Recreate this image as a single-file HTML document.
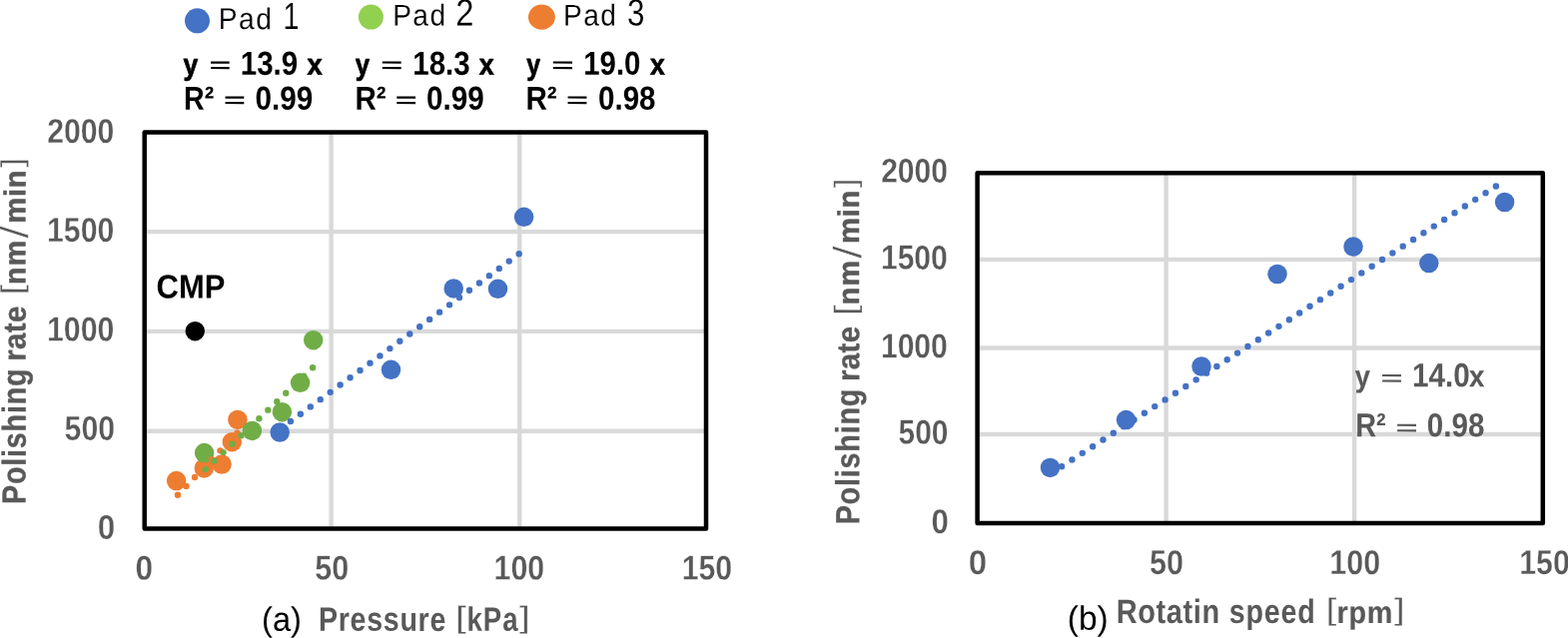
<!DOCTYPE html>
<html lang="en">
<head>
<meta charset="utf-8">
<title>Polishing rate vs pressure and rotation speed</title>
<style>
html,body{margin:0;padding:0;background:#fff;}
body{width:1570px;height:639px;overflow:hidden;}
svg{display:block;font-family:"Liberation Sans",sans-serif;}
</style>
</head>
<body>
<svg width="1570" height="639" viewBox="0 0 1570 639">
<rect width="1570" height="639" fill="#fff"/>
<g stroke="#d9d9d9" stroke-width="4.4" fill="none">
<line x1="331.6" y1="132.4" x2="331.6" y2="529.6"/>
<line x1="520.25" y1="132.4" x2="520.25" y2="529.6"/>
<line x1="144.7" y1="232.1" x2="707.0" y2="232.1"/>
<line x1="144.7" y1="331.85" x2="707.0" y2="331.85"/>
<line x1="144.7" y1="431.7" x2="707.0" y2="431.7"/>
</g>
<g fill="#4472c4"><circle cx="524.6" cy="217.3" r="9.75"/><circle cx="454.2" cy="288.9" r="9.75"/><circle cx="498.5" cy="289.3" r="9.75"/><circle cx="391.5" cy="370.3" r="9.75"/><circle cx="280.2" cy="433.0" r="9.75"/></g>
<g fill="#ed7d31"><circle cx="237.9" cy="420.4" r="9.75"/><circle cx="232.3" cy="442.7" r="9.75"/><circle cx="222.1" cy="465.1" r="9.75"/><circle cx="204.3" cy="468.9" r="9.75"/><circle cx="176.6" cy="481.6" r="9.75"/></g>
<g fill="#70ad47"><circle cx="313.7" cy="340.7" r="9.75"/><circle cx="300.6" cy="383.3" r="9.75"/><circle cx="282.4" cy="412.7" r="9.75"/><circle cx="252.4" cy="431.4" r="9.75"/><circle cx="204.6" cy="453.6" r="9.75"/></g>
<g fill="#000"><circle cx="195.3" cy="331.7" r="9.7"/></g>
<line x1="290.90" y1="422.00" x2="519.86" y2="254.18" stroke="#4472c4" stroke-width="6.4" stroke-linecap="round" stroke-dasharray="0 12.3338" fill="none"/>
<line x1="178.00" y1="495.80" x2="237.64" y2="433.46" stroke="#ed7d31" stroke-width="6.4" stroke-linecap="round" stroke-dasharray="0 12.2966" fill="none"/>
<line x1="205.70" y1="470.10" x2="313.25" y2="368.06" stroke="#70ad47" stroke-width="6.4" stroke-linecap="round" stroke-dasharray="0 12.3374" fill="none"/>
<rect x="144.7" y="132.4" width="562.30" height="397.20" fill="none" stroke="#000" stroke-width="4.5" stroke-linejoin="round"/>
<g stroke="#d9d9d9" stroke-width="4.4" fill="none">
<line x1="1167.6" y1="173.3" x2="1167.6" y2="523.9"/>
<line x1="1356.1" y1="173.3" x2="1356.1" y2="523.9"/>
<line x1="978.6" y1="259.9" x2="1544.8" y2="259.9"/>
<line x1="978.6" y1="348.5" x2="1544.8" y2="348.5"/>
<line x1="978.6" y1="435.0" x2="1544.8" y2="435.0"/>
</g>
<line x1="1063.06" y1="467.24" x2="1498.07" y2="186.39" stroke="#4472c4" stroke-width="6.4" stroke-linecap="round" stroke-dasharray="0 12.3236" fill="none"/>
<g fill="#4472c4"><circle cx="1051.5" cy="468.4" r="9.75"/><circle cx="1127.5" cy="420.6" r="9.75"/><circle cx="1203.0" cy="367.0" r="9.75"/><circle cx="1279.0" cy="274.5" r="9.75"/><circle cx="1355.0" cy="247.0" r="9.75"/><circle cx="1430.8" cy="263.6" r="9.75"/><circle cx="1506.6" cy="202.5" r="9.75"/></g>
<rect x="978.6" y="173.3" width="566.20" height="350.60" fill="none" stroke="#000" stroke-width="4.5" stroke-linejoin="round"/>
<ellipse cx="197.5" cy="20.8" rx="12.5" ry="12.5" fill="#4472c4"/>
<ellipse cx="371.4" cy="17.1" rx="12.5" ry="12.5" fill="#92d050"/>
<ellipse cx="542.4" cy="17.2" rx="13.4" ry="12.6" fill="#ed7d31"/>
<g class="yticks"><text transform="translate(47.14 143.00) rotate(0.05) scale(0.8772 1)" font-size="34.4" font-weight="700" fill="#595959" stroke="#fff" stroke-width="0.3">2000</text> <text transform="translate(47.01 242.00) rotate(0.05) scale(0.8789 1)" font-size="34.4" font-weight="700" fill="#595959" stroke="#fff" stroke-width="0.3">1500</text> <text transform="translate(47.01 341.40) rotate(0.05) scale(0.8789 1)" font-size="34.4" font-weight="700" fill="#595959" stroke="#fff" stroke-width="0.3">1000</text> <text transform="translate(64.59 440.70) rotate(0.05) scale(0.8789 1)" font-size="34.4" font-weight="700" fill="#595959" stroke="#fff" stroke-width="0.3">500</text> <text transform="translate(97.65 539.70) rotate(0.05) scale(0.9119 1)" font-size="34.4" font-weight="700" fill="#595959" stroke="#fff" stroke-width="0.3">0</text></g>
<g class="xticks"><text transform="translate(135.54 580.50) rotate(0.05) scale(0.9180 1)" font-size="34.4" font-weight="700" fill="#595959" stroke="#fff" stroke-width="0.3">0</text> <text transform="translate(315.28 580.50) rotate(0.05) scale(0.8889 1)" font-size="34.4" font-weight="700" fill="#595959" stroke="#fff" stroke-width="0.3">50</text> <text transform="translate(494.60 580.50) rotate(0.05) scale(0.8823 1)" font-size="34.4" font-weight="700" fill="#595959" stroke="#fff" stroke-width="0.3">100</text> <text transform="translate(682.71 580.50) rotate(0.05) scale(0.8786 1)" font-size="34.4" font-weight="700" fill="#595959" stroke="#fff" stroke-width="0.3">150</text></g>
<g class="ytitle"><text transform="translate(25.60 505.04) rotate(-89.95) scale(0.8590 1)" font-size="33.4" font-weight="700" fill="#595959" letter-spacing="0.960" stroke="#595959" stroke-width="0.3">Polishing</text> <text transform="translate(25.60 361.82) rotate(-89.95) scale(0.9348 1)" font-size="31.6" font-weight="700" fill="#595959" letter-spacing="0.373" stroke="#595959" stroke-width="0.3">rate</text> <text transform="translate(22.20 295.62) rotate(-89.95) scale(1.2325 1)" font-size="30.4" font-weight="400" fill="#595959" stroke="#fff" stroke-width="0.25">[</text><text transform="translate(25.35 284.97) rotate(-89.95) scale(0.9588 1)" font-size="30.0" font-weight="700" fill="#595959" letter-spacing="1.273" stroke="#595959" stroke-width="0.55">nm</text><text transform="translate(28.00 238.70) rotate(-89.95) scale(1.1622 1)" font-size="40" font-weight="400" fill="#595959" stroke="#fff" stroke-width="0.6">/</text><text transform="translate(25.35 223.80) rotate(-89.95) scale(0.9744 1)" font-size="30.0" font-weight="700" fill="#595959" letter-spacing="0.767" stroke="#595959" stroke-width="0.55">min</text><text transform="translate(22.20 167.86) rotate(-89.95) scale(1.1513 1)" font-size="30.4" font-weight="400" fill="#595959" stroke="#fff" stroke-width="0.25">]</text></g>
<g class="ytitle"><text transform="translate(860.20 525.34) rotate(-89.95) scale(0.8590 1)" font-size="33.4" font-weight="700" fill="#595959" letter-spacing="0.960" stroke="#595959" stroke-width="0.3">Polishing</text> <text transform="translate(860.20 382.12) rotate(-89.95) scale(0.9348 1)" font-size="31.6" font-weight="700" fill="#595959" letter-spacing="0.373" stroke="#595959" stroke-width="0.3">rate</text> <text transform="translate(856.80 315.92) rotate(-89.95) scale(1.2325 1)" font-size="30.4" font-weight="400" fill="#595959" stroke="#fff" stroke-width="0.25">[</text><text transform="translate(859.95 305.27) rotate(-89.95) scale(0.9588 1)" font-size="30.0" font-weight="700" fill="#595959" letter-spacing="1.273" stroke="#595959" stroke-width="0.55">nm</text><text transform="translate(862.60 259.00) rotate(-89.95) scale(1.1622 1)" font-size="40" font-weight="400" fill="#595959" stroke="#fff" stroke-width="0.6">/</text><text transform="translate(859.95 244.10) rotate(-89.95) scale(0.9744 1)" font-size="30.0" font-weight="700" fill="#595959" letter-spacing="0.767" stroke="#595959" stroke-width="0.55">min</text><text transform="translate(856.80 188.16) rotate(-89.95) scale(1.1513 1)" font-size="30.4" font-weight="400" fill="#595959" stroke="#fff" stroke-width="0.25">]</text></g>
<g class="xtitle"><text transform="translate(262.06 631.80) rotate(0.05) scale(0.9594 1)" font-size="34" font-weight="400" fill="#000">(a)</text> <text transform="translate(318.97 631.80) rotate(0.05) scale(0.8460 1)" font-size="33.8" font-weight="700" fill="#595959" letter-spacing="0.841">Pressure</text> <text transform="translate(455.97 628.40) rotate(0.05) scale(1.2825 1)" font-size="30.4" font-weight="400" fill="#595959" stroke="#fff" stroke-width="0.25">[</text><text transform="translate(467.57 631.80) rotate(0.05) scale(0.8148 1)" font-size="33.8" font-weight="700" fill="#595959" letter-spacing="1.208">kPa</text><text transform="translate(520.01 628.40) rotate(0.05) scale(1.2829 1)" font-size="30.4" font-weight="400" fill="#595959" stroke="#fff" stroke-width="0.25">]</text></g>
<g class="annotation"><text transform="translate(156.56 298.50) rotate(0.05) scale(0.9257 1)" font-size="33.4" font-weight="700" fill="#000">CMP</text></g>
<g class="legend"><text transform="translate(218.77 29.10) rotate(0.05) scale(0.9405 1)" font-size="30" font-weight="400" fill="#000" letter-spacing="1.563" stroke="#fff" stroke-width="0.12">Pad</text> <text transform="translate(283.45 29.10) rotate(0.05) scale(0.7585 1)" font-size="37.8" font-weight="400" fill="#000" stroke="#fff" stroke-width="0.12">1</text></g>
<g class="legend"><text transform="translate(393.18 25.40) rotate(0.05) scale(0.9366 1)" font-size="30" font-weight="400" fill="#000" letter-spacing="1.563" stroke="#fff" stroke-width="0.12">Pad</text> <text transform="translate(456.36 25.40) rotate(0.05) scale(0.8663 1)" font-size="37.8" font-weight="400" fill="#000" stroke="#fff" stroke-width="0.12">2</text></g>
<g class="legend"><text transform="translate(564.08 25.40) rotate(0.05) scale(0.9366 1)" font-size="30" font-weight="400" fill="#000" letter-spacing="1.563" stroke="#fff" stroke-width="0.12">Pad</text> <text transform="translate(628.12 25.40) rotate(0.05) scale(0.8299 1)" font-size="37.8" font-weight="400" fill="#000" stroke="#fff" stroke-width="0.12">3</text></g>
<g class="trend-eq"><text transform="translate(183.60 74.70) rotate(0.05) scale(0.8883 1)" font-size="29.880000000000003" font-weight="700" fill="#000" stroke="#000" stroke-width="0.7" stroke-linejoin="round">y</text> <text transform="translate(209.52 72.10) rotate(0.05) scale(1.8235 1)" font-size="20.4" font-weight="700" fill="#000">=</text> <text transform="translate(240.76 74.70) rotate(0.05) scale(0.8885 1)" font-size="33.2" font-weight="700" fill="#000">13.9</text> <text transform="translate(307.49 74.70) rotate(0.05) scale(0.9172 1)" font-size="29.880000000000003" font-weight="700" fill="#000" stroke="#000" stroke-width="0.7" stroke-linejoin="round">x</text></g>
<g class="trend-r2"><text transform="translate(184.07 109.70) rotate(0.05) scale(0.8593 1)" font-size="33.2" font-weight="700" fill="#000">R²</text> <text transform="translate(223.91 107.10) rotate(0.05) scale(1.8333 1)" font-size="20.4" font-weight="700" fill="#000">=</text> <text transform="translate(255.41 109.70) rotate(0.05) scale(0.8940 1)" font-size="33.2" font-weight="700" fill="#000">0.99</text></g>
<g class="trend-eq"><text transform="translate(355.81 74.70) rotate(0.05) scale(0.8637 1)" font-size="29.880000000000003" font-weight="700" fill="#000" stroke="#000" stroke-width="0.7" stroke-linejoin="round">y</text> <text transform="translate(381.20 72.10) rotate(0.05) scale(1.8431 1)" font-size="20.4" font-weight="700" fill="#000">=</text> <text transform="translate(413.26 74.70) rotate(0.05) scale(0.8885 1)" font-size="33.2" font-weight="700" fill="#000">18.3</text> <text transform="translate(479.70 74.70) rotate(0.05) scale(0.8987 1)" font-size="29.880000000000003" font-weight="700" fill="#000" stroke="#000" stroke-width="0.7" stroke-linejoin="round">x</text></g>
<g class="trend-r2"><text transform="translate(355.51 109.70) rotate(0.05) scale(0.8873 1)" font-size="33.2" font-weight="700" fill="#000">R²</text> <text transform="translate(395.71 107.10) rotate(0.05) scale(1.8333 1)" font-size="20.4" font-weight="700" fill="#000">=</text> <text transform="translate(427.11 109.70) rotate(0.05) scale(0.8923 1)" font-size="33.2" font-weight="700" fill="#000">0.99</text></g>
<g class="trend-eq"><text transform="translate(527.31 74.70) rotate(0.05) scale(0.8328 1)" font-size="29.880000000000003" font-weight="700" fill="#000" stroke="#000" stroke-width="0.7" stroke-linejoin="round">y</text> <text transform="translate(552.18 72.10) rotate(0.05) scale(1.8725 1)" font-size="20.4" font-weight="700" fill="#000">=</text> <text transform="translate(584.26 74.70) rotate(0.05) scale(0.8844 1)" font-size="33.2" font-weight="700" fill="#000">19.0</text> <text transform="translate(651.00 74.70) rotate(0.05) scale(0.8863 1)" font-size="29.880000000000003" font-weight="700" fill="#000" stroke="#000" stroke-width="0.7" stroke-linejoin="round">x</text></g>
<g class="trend-r2"><text transform="translate(526.40 109.70) rotate(0.05) scale(0.8904 1)" font-size="33.2" font-weight="700" fill="#000">R²</text> <text transform="translate(567.00 107.10) rotate(0.05) scale(1.8431 1)" font-size="20.4" font-weight="700" fill="#000">=</text> <text transform="translate(599.02 109.70) rotate(0.05) scale(0.8900 1)" font-size="33.2" font-weight="700" fill="#000">0.98</text></g>
<g class="yticks"><text transform="translate(882.15 182.80) rotate(0.05) scale(0.8718 1)" font-size="34.4" font-weight="700" fill="#595959" stroke="#fff" stroke-width="0.3">2000</text> <text transform="translate(881.92 269.60) rotate(0.05) scale(0.8748 1)" font-size="34.4" font-weight="700" fill="#595959" stroke="#fff" stroke-width="0.3">1500</text> <text transform="translate(881.92 358.20) rotate(0.05) scale(0.8748 1)" font-size="34.4" font-weight="700" fill="#595959" stroke="#fff" stroke-width="0.3">1000</text> <text transform="translate(899.50 444.60) rotate(0.05) scale(0.8698 1)" font-size="34.4" font-weight="700" fill="#595959" stroke="#fff" stroke-width="0.3">500</text> <text transform="translate(932.55 534.00) rotate(0.05) scale(0.9058 1)" font-size="34.4" font-weight="700" fill="#595959" stroke="#fff" stroke-width="0.3">0</text></g>
<g class="xticks"><text transform="translate(969.78 575.00) rotate(0.05) scale(0.9608 1)" font-size="34.4" font-weight="700" fill="#595959" stroke="#fff" stroke-width="0.3">0</text> <text transform="translate(1150.98 575.00) rotate(0.05) scale(0.8889 1)" font-size="34.4" font-weight="700" fill="#595959" stroke="#fff" stroke-width="0.3">50</text> <text transform="translate(1331.30 575.00) rotate(0.05) scale(0.8860 1)" font-size="34.4" font-weight="700" fill="#595959" stroke="#fff" stroke-width="0.3">100</text> <text transform="translate(1521.21 575.00) rotate(0.05) scale(0.8805 1)" font-size="34.4" font-weight="700" fill="#595959" stroke="#fff" stroke-width="0.3">150</text></g>
<g class="xtitle"><text transform="translate(1068.81 630.70) rotate(0.05) scale(0.9835 1)" font-size="34" font-weight="400" fill="#000">(b)</text> <text transform="translate(1117.65 624.00) rotate(0.05) scale(0.8551 1)" font-size="33.8" font-weight="700" fill="#595959" letter-spacing="0.778">Rotatin</text> <text transform="translate(1230.70 624.00) rotate(0.05) scale(0.8460 1)" font-size="33.8" font-weight="700" fill="#595959" letter-spacing="0.982">speed</text> <text transform="translate(1327.47 620.60) rotate(0.05) scale(1.2825 1)" font-size="30.4" font-weight="400" fill="#595959" stroke="#fff" stroke-width="0.25">[</text><text transform="translate(1338.43 624.00) rotate(0.05) scale(0.9285 1)" font-size="31.0" font-weight="700" fill="#595959" letter-spacing="0.845" stroke="#595959" stroke-width="0.2">rpm</text><text transform="translate(1395.91 620.60) rotate(0.05) scale(1.2664 1)" font-size="30.4" font-weight="400" fill="#595959" stroke="#fff" stroke-width="0.25">]</text></g>
<g class="trend-eq"><text transform="translate(1356.70 387.30) rotate(0.05) scale(0.8987 1)" font-size="30.150000000000002" font-weight="700" fill="#595959" stroke="#595959" stroke-width="0.2" stroke-linejoin="round">y</text> <text transform="translate(1382.40 385.40) rotate(0.05) scale(1.8431 1)" font-size="20.4" font-weight="700" fill="#595959">=</text> <text transform="translate(1414.04 387.30) rotate(0.05) scale(0.8862 1)" font-size="33.5" font-weight="700" fill="#595959">14.0</text><text transform="translate(1471.09 387.30) rotate(0.05) scale(0.9152 1)" font-size="30.150000000000002" font-weight="700" fill="#595959" stroke="#595959" stroke-width="0.2" stroke-linejoin="round">x</text></g>
<g class="trend-r2"><text transform="translate(1357.15 437.20) rotate(0.05) scale(0.8608 1)" font-size="33.5" font-weight="700" fill="#595959">R²</text> <text transform="translate(1397.39 435.30) rotate(0.05) scale(1.8529 1)" font-size="20.4" font-weight="700" fill="#595959">=</text> <text transform="translate(1428.82 437.20) rotate(0.05) scale(0.8820 1)" font-size="33.5" font-weight="700" fill="#595959">0.98</text></g>
</svg>
</body>
</html>
